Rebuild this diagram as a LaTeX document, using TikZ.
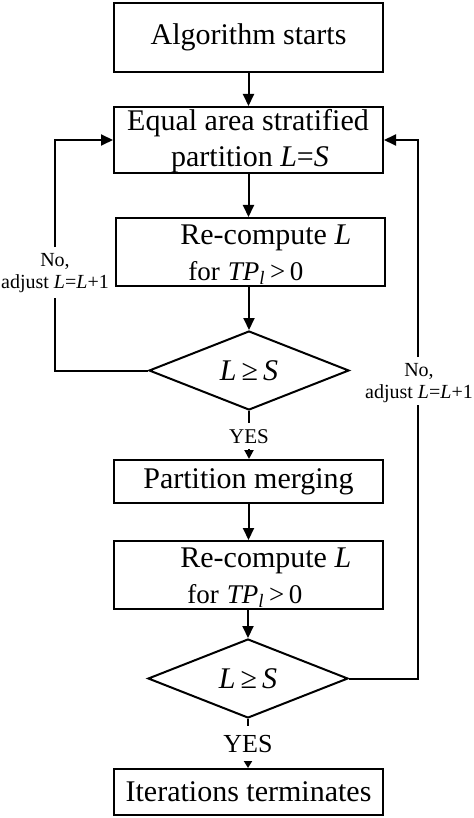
\documentclass[tikz,border=0pt]{standalone}
\usepackage{fontspec}
\setmainfont{Liberation Serif}
\usetikzlibrary{shapes.geometric,arrows.meta}
\begin{document}
\begin{tikzpicture}[x=0.5pt,y=-0.5pt,
  box/.style={draw,line width=1pt,inner sep=0pt,minimum width=134.5pt,font=\fontsize{15}{18}\selectfont},
  dia/.style={draw,diamond,line width=1pt,inner sep=0pt,minimum width=100pt,minimum height=39.5pt,font=\fontsize{15}{18}\selectfont},
  txt/.style={inner sep=0pt,font=\fontsize{15}{18}\selectfont},
  txts/.style={inner sep=0pt,font=\fontsize{13.5}{16}\selectfont},
  lbl/.style={inner sep=0pt,align=center,font=\fontsize{10}{11}\selectfont},
  arr/.style={line width=1pt,-{Triangle[length=6pt,width=5.5pt]}},
  ln/.style={line width=1pt},
]
\useasboundingbox (0,0) rectangle (474,818);
\fill[white] (0,0) rectangle (474,818);

% boxes
\node[box,minimum height=34.5pt] (b1) at (248.5,37.5) {Algorithm starts};
\node[box,minimum height=33pt] (b2) at (248.5,140) {};
\node[txt,anchor=base] (b2t1) at (248,131) {Equal area stratified};
\node[txt,anchor=base] (b2t2) at (250,167) {partition \textit{L}=\textit{S}};
\node[box,minimum height=34pt] (b3) at (250.5,252) {};
\node[txt,anchor=base west] (b3t1) at (180,244) {Re-compute \textit{L}};
\node[txts,anchor=base west] (b3t2) at (188,280) {for\hspace{4pt}\textit{TP}\textsubscript{\textit{l}}\,>\,0};
\node[dia] (d1) at (249,370.5) {\textit{L}\hspace{2.5pt}≥\hspace{2.5pt}\textit{S}};
\node[box,minimum height=21.5pt] (b4) at (248.5,481.5) {Partition merging};
\node[box,minimum height=34pt] (b5) at (248.5,575) {};
\node[txt,anchor=base west] (b5t1) at (180,567) {Re-compute \textit{L}};
\node[txts,anchor=base west] (b5t2) at (187,603) {for\hspace{4pt}\textit{TP}\textsubscript{\textit{l}}\,>\,0};
\node[dia] (d2) at (248,678.5) {\textit{L}\hspace{2.5pt}≥\hspace{2.5pt}\textit{S}};
\node[box,minimum height=23pt] (b6) at (248.5,792) {Iterations terminates};

% labels
\node[lbl] (nol) at (55,273.5) {No,\\adjust \textit{L}=\textit{L}+1};
\node[lbl] (nor) at (419,383.5) {No,\\adjust \textit{L}=\textit{L}+1};
\node[inner sep=0pt,anchor=base,font=\fontsize{10.5}{12}\selectfont] (yes1) at (249,443) {YES};
\node[inner sep=0pt,anchor=base,font=\fontsize{13}{15}\selectfont] (yes2) at (248,752) {YES};

% coordinates
\coordinate (l1t) at (55,247);
\coordinate (l1b) at (55,298);
\coordinate (r1t) at (418,357);
\coordinate (r1b) at (418,405);
\coordinate (y1l) at (249,423);
\coordinate (y1a) at (249,449);
\coordinate (y2l) at (248,726);
\coordinate (y2a) at (248,762);

% connectors
\draw[arr] (b1.south) -- (b2.north);
\draw[arr] (b2.south) -- (b2.south |- b3.north);
\draw[arr] (d1.north |- b3.south) -- (d1.north);
\draw[ln] (d1.west) -| (l1b);
\draw[arr] (l1t) |- (b2.west);
\draw[ln] (d1.south) -- (y1l);
\draw[line width=1pt,-{Triangle[length=4.5pt,width=4.5pt]}] (y1a) -- (y1a |- b4.north);
\draw[arr] (b4.south) -- (b5.north);
\draw[arr] (d2.north |- b5.south) -- (d2.north);
\draw[ln] (d2.east) -| (r1b);
\draw[arr] (r1t) |- (b2.east);
\draw[ln] (d2.south) -- (y2l);
\draw[line width=1pt,-{Triangle[length=3.5pt,width=4pt]}] (y2a) -- (y2a |- b6.north);
\end{tikzpicture}
\end{document}
